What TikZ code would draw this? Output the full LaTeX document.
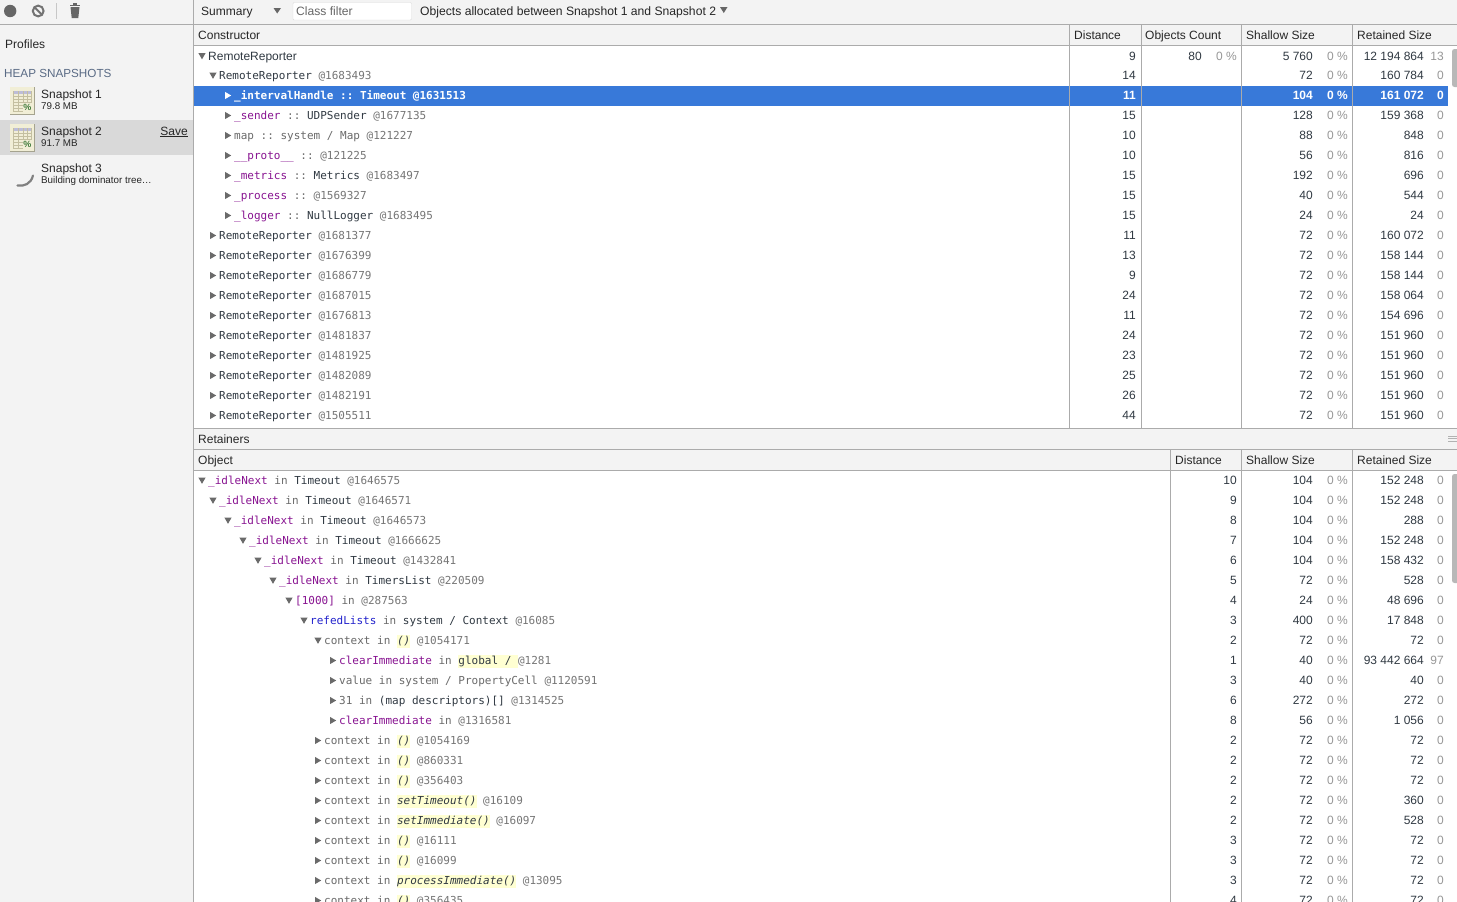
\documentclass[tikz,border=0pt]{standalone}
\usepackage{fontspec}
\setmainfont{Liberation Sans}
\setmonofont{DejaVu Sans Mono}
\definecolor{panel}{HTML}{F3F3F3}
\definecolor{rule}{HTML}{ABABAB}
\definecolor{sel}{HTML}{3879D9}
\definecolor{dark}{HTML}{303942}
\definecolor{purp}{HTML}{881391}
\definecolor{idg}{HTML}{767676}
\definecolor{wk}{HTML}{6A6A6A}
\definecolor{pct}{HTML}{979797}
\definecolor{hly}{HTML}{FFFFD2}
\definecolor{selrow}{HTML}{D9D9D9}
\definecolor{heap}{HTML}{5A6B85}
\definecolor{iconbg}{HTML}{F1EED6}
\definecolor{iconedge}{HTML}{A5A38F}
\definecolor{iconhead}{HTML}{BDBDD8}
\definecolor{icongrid}{HTML}{C4BFA0}
\definecolor{iconpct}{HTML}{3F7A3A}
\definecolor{refed}{HTML}{2222CC}
\newcounter{nn}
\newcommand{\mono}{\ttfamily\fontsize{11}{13}\selectfont}
\newcommand{\sans}{\rmfamily\fontsize{12}{14}\selectfont}
\newcommand{\mkP}[1]{\textcolor{purp}{#1}}
\newcommand{\mkG}[1]{\textcolor{idg}{#1}}
\newcommand{\mkW}[1]{\textcolor{wk}{#1}}
\newcommand{\mkH}[1]{{\setlength{\fboxsep}{0pt}\colorbox{hly}{\rule[-3pt]{0pt}{13pt}#1}}}
\newcommand{\txt}[4][lbl]{\stepcounter{nn}\node[#1,name=n\arabic{nn}] at (#2,#3) {#4};}
\newcommand{\trio}[3][wk]{\fill[#1] (#2-3.6,#3-2.9) -- (#2+3.6,#3-2.9) -- (#2,#3+3.3) -- cycle;}
\newcommand{\tric}[3][wk]{\fill[#1] (#2-3,#3-3.6) -- (#2+3.2,#3) -- (#2-3,#3+3.6) -- cycle;}
% top row: y, text x, o/c, text, distance, shallow, retained, retained pct
\newcommand{\trow}[8]{%
  \csname tri#3\endcsname{#2-6}{#1}%
  \txt[lbl,font=\mono,text=dark]{#2}{#1+4}{#4}%
  \txt[num,font=\sans,text=dark]{1136}{#1+4}{#5}%
  \txt[num,font=\sans,text=dark]{1313}{#1+4}{#6}%
  \txt[num,font=\sans,text=pct]{1348}{#1+4}{0 \%}%
  \txt[num,font=\sans,text=dark]{1424}{#1+4}{#7}%
  \txt[num,font=\sans,text=pct]{1444}{#1+4}{#8}%
}
% bottom row
\newcommand{\brow}[8]{%
  \csname tri#3\endcsname{#2-6}{#1}%
  \txt[lbl,font=\mono,text=dark]{#2}{#1+4}{#4}%
  \txt[num,font=\sans,text=dark]{1237}{#1+4}{#5}%
  \txt[num,font=\sans,text=dark]{1313}{#1+4}{#6}%
  \txt[num,font=\sans,text=pct]{1348}{#1+4}{0 \%}%
  \txt[num,font=\sans,text=dark]{1424}{#1+4}{#7}%
  \txt[num,font=\sans,text=pct]{1444}{#1+4}{#8}%
}
\newcommand{\snapicon}[2]{%
  \fill[iconedge] (#1-0.5,#2-0.5) rectangle (#1+24.5,#2+27.5);
  \fill[iconbg] (#1,#2) rectangle (#1+24,#2+26.5);
  \fill[iconhead] (#1+3,#2+4) rectangle (#1+21,#2+7);
  \foreach \k in {9,12,15,18,21,24} \draw[icongrid,line width=.6pt] (#1+3,#2+\k) -- (#1+21,#2+\k);
  \foreach \k in {3,8,13,17,21} \draw[icongrid,line width=.6pt] (#1+\k,#2+4) -- (#1+\k,#2+24);
  \fill[iconbg] (#1+13,#2+15.5) rectangle (#1+22.5,#2+25.5);
  \stepcounter{nn}\node[inner sep=0,font=\rmfamily\bfseries\fontsize{9}{9}\selectfont,text=iconpct,name=n\arabic{nn}] at (#1+17.5,#2+20.5) {\%};%
}
\tikzset{
  lbl/.style={inner sep=0,anchor=base west},
  num/.style={inner sep=0,anchor=base east},
  hdr/.style={lbl,font=\sans,text=black!85},
  side/.style={lbl,font=\sans,text=black!85},
  small/.style={lbl,font=\rmfamily\fontsize{9.8}{11}\selectfont,text=black!85},
  sep/.style={rule,line width=1pt}
}
\begin{document}
\begin{tikzpicture}[x=1pt,y=-1pt]
\clip (0,0) rectangle (1457,902);
\fill[white] (0,0) rectangle (1457,902);
% panels
\fill[panel] (0,0) rectangle (193.5,902);
\fill[panel] (194,0) rectangle (1457,24.5);
\fill[panel] (194,25) rectangle (1457,45);
\fill[panel] (194,429) rectangle (1457,449);
\fill[panel] (194,450) rectangle (1457,470);
\fill[selrow] (0,120) rectangle (193,155);
\fill[sel] (194,86) rectangle (1448,106);
% scrollbars
\fill[black!28,rounded corners=2.5pt] (1452,49) rectangle (1462,87);
\fill[black!28,rounded corners=2.5pt] (1452,474) rectangle (1462,583);
% rules
\draw[sep] (0,24.5) -- (1457,24.5);
\draw[sep] (193.5,0) -- (193.5,902);
\draw[sep] (194,45.5) -- (1457,45.5);
\draw[sep] (194,428.5) -- (1457,428.5);
\draw[sep] (194,449.5) -- (1457,449.5);
\draw[sep] (194,470.5) -- (1457,470.5);
\foreach \x in {1069.5,1141,1241.5,1352.5} \draw[sep] (\x,25) -- (\x,428);
\foreach \x in {1170.5,1241.5,1352.5} \draw[sep] (\x,450) -- (\x,902);
\foreach \yy in {436,438.5,441} \draw[black!30,line width=.8pt] (1448,\yy) -- (1457,\yy);
% toolbar icons
\fill[black!60] (10.2,11) circle (6.2);
\draw[black!55,line width=2pt] (38.2,11) circle (5.4);
\draw[black!55,line width=2pt] (34.4,7.2) -- (42,14.8);
\draw[black!22,line width=1pt] (56.5,3) -- (56.5,19);
\fill[black!60] (70.5,7) -- (79.5,7) -- (78.3,18) -- (71.7,18) -- cycle;
\fill[black!60] (70,4.5) rectangle (80,6);
\fill[black!60] (73,3.2) rectangle (77,5);
% sidebar
\txt[side]{5}{48}{Profiles}
\txt[lbl,font=\rmfamily\fontsize{11.7}{14}\selectfont,text=heap]{4}{77}{HEAP SNAPSHOTS}
\snapicon{10}{87}
\snapicon{10}{124}
\txt[side]{41}{98}{Snapshot 1}
\txt[small]{41}{109}{79.8 MB}
\txt[side]{41}{135}{Snapshot 2}
\txt[small]{41}{146}{91.7 MB}
\txt[num,font=\sans,text=black!85]{188}{135}{\underline{Save}}
\txt[side]{41}{172}{Snapshot 3}
\txt[small]{41}{183}{Building dominator tree…}
\draw[black!50,line width=2.2pt,line cap=round] (17.5,185.5) .. controls (24,186.5) and (31,184) .. (33,175.5);
% main toolbar
\txt[hdr]{201}{15}{Summary}
\fill[black!60] (273.5,8) -- (281,8) -- (277.2,13.5) -- cycle;
\draw[black!14,fill=white,rounded corners=1pt] (293,2.5) rectangle (411.5,20);
\txt[lbl,font=\rmfamily\fontsize{12.1}{14}\selectfont,text=black!60]{296}{16}{Class filter}
\txt[lbl,font=\rmfamily\fontsize{12.15}{14}\selectfont,text=black!85]{420}{15}{Objects allocated between Snapshot 1 and Snapshot 2}
\fill[black!60] (720,7) -- (727.5,7) -- (723.8,13) -- cycle;
% headers
\txt[hdr]{198}{39}{Constructor}
\txt[hdr]{1074}{39}{Distance}
\txt[hdr]{1145}{39}{Objects Count}
\txt[hdr]{1246}{39}{Shallow Size}
\txt[hdr]{1357}{39}{Retained Size}
\txt[hdr]{198}{443}{Retainers}
\txt[hdr]{198}{464}{Object}
\txt[hdr]{1175}{464}{Distance}
\txt[hdr]{1246}{464}{Shallow Size}
\txt[hdr]{1357}{464}{Retained Size}
% top table
\trio{202}{56}
\txt[lbl,font=\sans,text=dark]{208}{60}{RemoteReporter}
\txt[num,font=\sans,text=dark]{1136}{60}{9}
\txt[num,font=\sans,text=dark]{1202}{60}{80}
\txt[num,font=\sans,text=pct]{1237}{60}{0 \%}
\txt[num,font=\sans,text=dark]{1313}{60}{5 760}
\txt[num,font=\sans,text=pct]{1348}{60}{0 \%}
\txt[num,font=\sans,text=dark]{1424}{60}{12 194 864}
\txt[num,font=\sans,text=pct]{1444}{60}{13}
\trow{75.5}{219}{o}{RemoteReporter \mkG{@1683493}}{14}{72}{160 784}{0}
% selected row
\tric[white]{228}{95.5}
\txt[lbl,font=\mono\bfseries,text=white]{234}{99.5}{\_intervalHandle :: Timeout @1631513}
\txt[num,font=\sans\bfseries,text=white]{1136}{99.5}{11}
\txt[num,font=\sans\bfseries,text=white]{1313}{99.5}{104}
\txt[num,font=\sans\bfseries,text=white]{1348}{99.5}{0 \%}
\txt[num,font=\sans\bfseries,text=white]{1424}{99.5}{161 072}
\txt[num,font=\sans\bfseries,text=white]{1444}{99.5}{0}
\trow{115.5}{234}{c}{\mkP{\_sender} \mkW{::} UDPSender \mkG{@1677135}}{15}{128}{159 368}{0}
\trow{135.5}{234}{c}{\mkW{map :: system / Map} \mkG{@121227}}{10}{88}{848}{0}
\trow{155.5}{234}{c}{\mkP{\_\_proto\_\_} \mkW{::} \mkG{@121225}}{10}{56}{816}{0}
\trow{175.5}{234}{c}{\mkP{\_metrics} \mkW{::} Metrics \mkG{@1683497}}{15}{192}{696}{0}
\trow{195.5}{234}{c}{\mkP{\_process} \mkW{::} \mkG{@1569327}}{15}{40}{544}{0}
\trow{215.5}{234}{c}{\mkP{\_logger} \mkW{::} NullLogger \mkG{@1683495}}{15}{24}{24}{0}
\trow{235.5}{219}{c}{RemoteReporter \mkG{@1681377}}{11}{72}{160 072}{0}
\trow{255.5}{219}{c}{RemoteReporter \mkG{@1676399}}{13}{72}{158 144}{0}
\trow{275.5}{219}{c}{RemoteReporter \mkG{@1686779}}{9}{72}{158 144}{0}
\trow{295.5}{219}{c}{RemoteReporter \mkG{@1687015}}{24}{72}{158 064}{0}
\trow{315.5}{219}{c}{RemoteReporter \mkG{@1676813}}{11}{72}{154 696}{0}
\trow{335.5}{219}{c}{RemoteReporter \mkG{@1481837}}{24}{72}{151 960}{0}
\trow{355.5}{219}{c}{RemoteReporter \mkG{@1481925}}{23}{72}{151 960}{0}
\trow{375.5}{219}{c}{RemoteReporter \mkG{@1482089}}{25}{72}{151 960}{0}
\trow{395.5}{219}{c}{RemoteReporter \mkG{@1482191}}{26}{72}{151 960}{0}
\trow{415.5}{219}{c}{RemoteReporter \mkG{@1505511}}{44}{72}{151 960}{0}
% retainers table
\brow{480.5}{208}{o}{\mkP{\_idleNext} \mkW{in} Timeout \mkG{@1646575}}{10}{104}{152 248}{0}
\brow{500.5}{219}{o}{\mkP{\_idleNext} \mkW{in} Timeout \mkG{@1646571}}{9}{104}{152 248}{0}
\brow{520.5}{234}{o}{\mkP{\_idleNext} \mkW{in} Timeout \mkG{@1646573}}{8}{104}{288}{0}
\brow{540.5}{249}{o}{\mkP{\_idleNext} \mkW{in} Timeout \mkG{@1666625}}{7}{104}{152 248}{0}
\brow{560.5}{264}{o}{\mkP{\_idleNext} \mkW{in} Timeout \mkG{@1432841}}{6}{104}{158 432}{0}
\brow{580.5}{279}{o}{\mkP{\_idleNext} \mkW{in} TimersList \mkG{@220509}}{5}{72}{528}{0}
\brow{600.5}{295}{o}{\mkP{[1000]} \mkW{in} \mkG{@287563}}{4}{24}{48 696}{0}
\brow{620.5}{310}{o}{\textcolor{refed}{refedLists} \mkW{in} system / Context \mkG{@16085}}{3}{400}{17 848}{0}
\brow{640.5}{324}{o}{\mkW{context in} \mkH{\itshape ()} \mkG{@1054171}}{2}{72}{72}{0}
\brow{660.5}{339}{c}{\mkP{clearImmediate} \mkW{in} \mkH{global / }\mkG{@1281}}{1}{40}{93 442 664}{97}
\brow{680.5}{339}{c}{\mkW{value in system / PropertyCell} \mkG{@1120591}}{3}{40}{40}{0}
\brow{700.5}{339}{c}{\mkW{31 in} (map descriptors)[] \mkG{@1314525}}{6}{272}{272}{0}
\brow{720.5}{339}{c}{\mkP{clearImmediate} \mkW{in} \mkG{@1316581}}{8}{56}{1 056}{0}
\brow{740.5}{324}{c}{\mkW{context in} \mkH{\itshape ()} \mkG{@1054169}}{2}{72}{72}{0}
\brow{760.5}{324}{c}{\mkW{context in} \mkH{\itshape ()} \mkG{@860331}}{2}{72}{72}{0}
\brow{780.5}{324}{c}{\mkW{context in} \mkH{\itshape ()} \mkG{@356403}}{2}{72}{72}{0}
\brow{800.5}{324}{c}{\mkW{context in} \mkH{\itshape setTimeout()} \mkG{@16109}}{2}{72}{360}{0}
\brow{820.5}{324}{c}{\mkW{context in} \mkH{\itshape setImmediate()} \mkG{@16097}}{2}{72}{528}{0}
\brow{840.5}{324}{c}{\mkW{context in} \mkH{\itshape ()} \mkG{@16111}}{3}{72}{72}{0}
\brow{860.5}{324}{c}{\mkW{context in} \mkH{\itshape ()} \mkG{@16099}}{3}{72}{72}{0}
\brow{880.5}{324}{c}{\mkW{context in} \mkH{\itshape processImmediate()} \mkG{@13095}}{3}{72}{72}{0}
\brow{900.5}{324}{c}{\mkW{context in} \mkH{\itshape ()} \mkG{@356435}}{4}{72}{72}{0}
\end{tikzpicture}
\end{document}
